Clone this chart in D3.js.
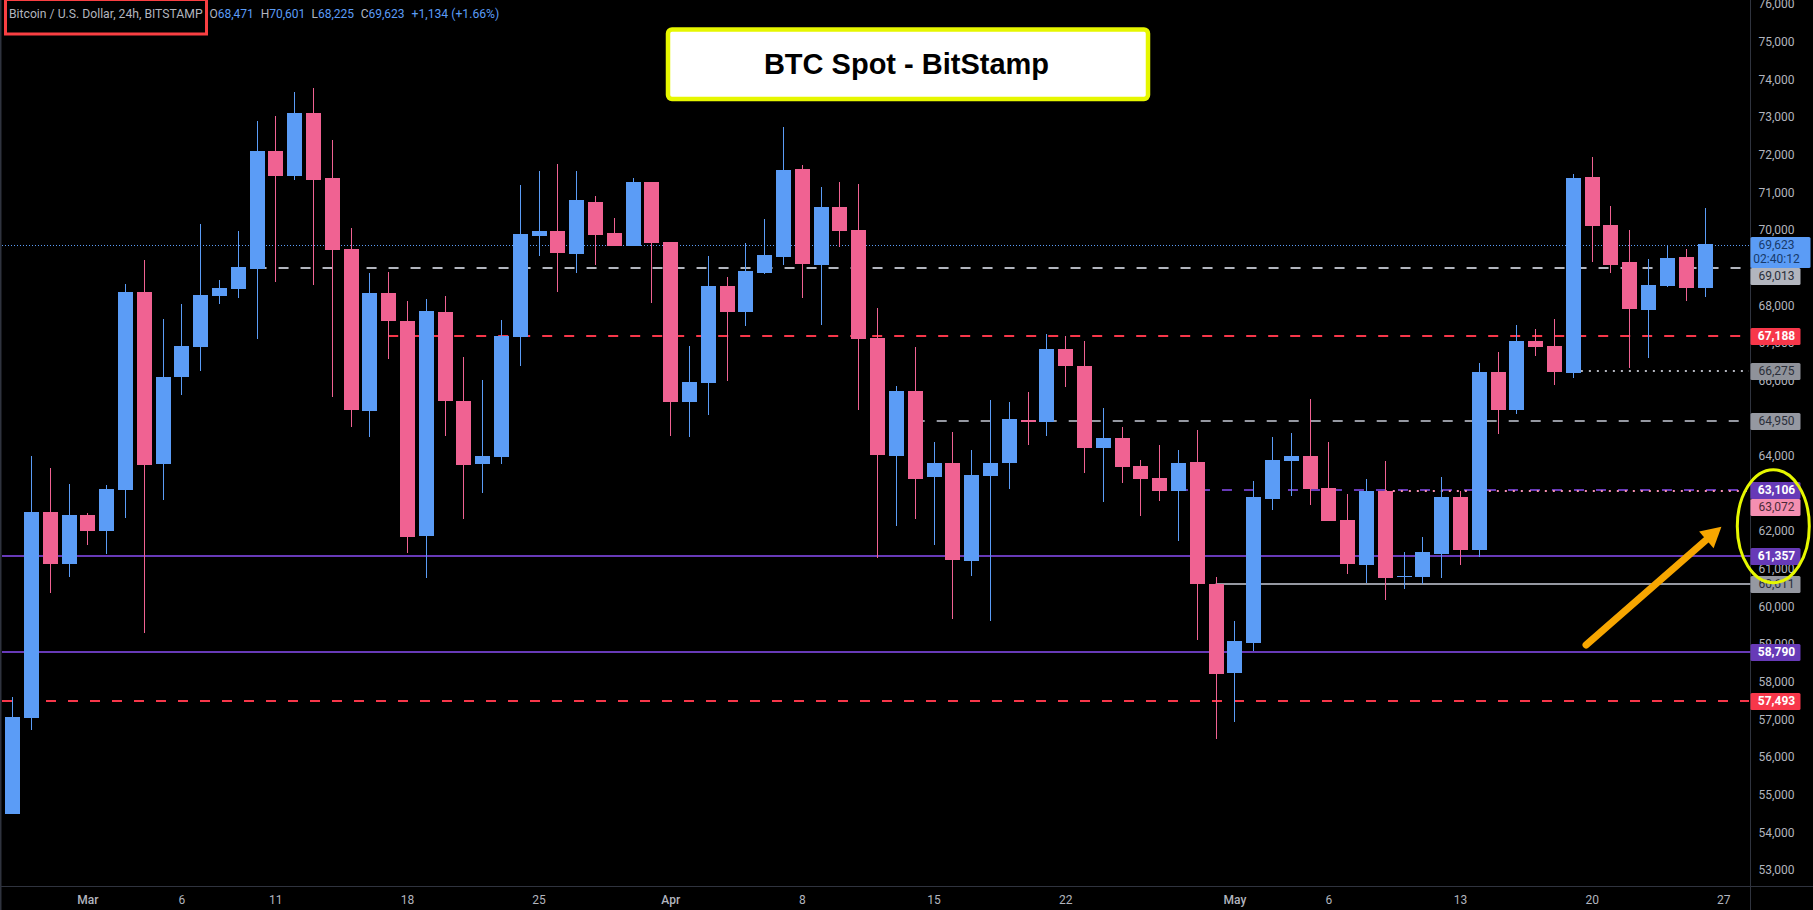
<!DOCTYPE html>
<html>
<head>
<meta charset="utf-8">
<script src="https://cdn.jsdelivr.net/npm/d3@7"></script>
<style>
  html, body { margin: 0; padding: 0; background: #000; overflow: hidden; }
  text { font-family: Roboto, sans-serif; }
</style>
</head>
<body>
<div id="chart"></div>
<script>
// daily candles, 26 Feb to 26 May
var opens = [54490,57041,62513,61132,62433,62008,63098,68359,63788,66100,66897,68252,68438,68969,72104,71440,
  73114,71387,69501,65197,68332,67588,61876,67827,65462,63788,63974,67163,69847,69979,69368,70750,
  69926,69581,71281,69687,65436,65941,68518,67827,68863,69288,71626,69076,70617,70006,67136,64001,
  65728,63443,63815,61211,63470,63815,64958,64905,66844,66392,64214,64480,63735,63416,63071,63841,
  60600,58236,59033,62859,63868,64001,63151,62301,61105,63071,60787,60787,61397,62912,61504,66233,
  65223,67057,66924,66206,71414,70139,69156,67880,68518,69288,68471]
var highs = [57599,64001,63682,63257,62487,63230,68571,69209,67641,68040,70165,68677,69979,72901,73034,73672,
  73778,72396,70059,68863,68890,68119,68173,68252,66631,66020,67615,71201,71573,71759,71573,70909,
  70325,71387,71281,69687,66924,69315,68757,69661,70298,72742,71732,71148,71281,71228,67934,65860,
  66897,64373,64638,64160,65489,65436,65701,67242,67189,67057,65276,64772,63895,64293,64160,64691,
  60786,59618,63337,64506,64612,65516,64373,62991,63389,63868,61451,61849,63443,63071,66472,66764,
  67482,67375,67641,71494,71945,70644,70006,69235,69581,69501,70601]
var lows = [54490,56722,60362,60787,61637,61397,62354,59299,62832,65622,66259,68040,68199,67110,68624,71334,
  68544,65569,64772,64506,66578,61424,60760,64533,62327,63018,63788,66392,69315,68359,68863,69076,
  69581,69581,68066,64533,64506,65090,65994,67455,68836,69076,68199,67482,69554,65223,61291,62141,
  62327,61637,59671,60813,59618,63124,64293,64533,65834,63549,62779,63284,62407,62805,61743,59113,
  56483,56934,58820,62566,62938,62699,62274,60866,60627,60176,60468,60600,60760,61105,61318,64586,
  65117,66658,65887,66073,69156,68863,66339,66605,68491,68119,68225]
var closes = [57067,62513,61132,62433,62008,63124,68359,63762,66100,66924,68279,68465,69023,72104,71440,73114,
  71334,69475,65223,68332,67588,61849,67854,65462,63762,64001,67189,69900,69979,69395,70803,69873,
  69581,71281,69661,65436,65967,68518,67827,68916,69341,71600,69102,70617,69979,67110,64028,65728,
  63389,63815,61238,63496,63815,64984,64905,66844,66392,64214,64480,63709,63389,63071,63815,60600,
  58209,59086,62912,63895,64001,63124,62274,61132,63071,60760,60813,61451,62912,61504,66233,65223,
  67057,66897,66233,71387,70112,69076,67907,68544,69261,68465,69623]

var priceTicks = [53000,54000,55000,56000,57000,58000,59000,60000,61000,62000,63000,64000,65000,66000,67000,
  68000,69000,70000,71000,72000,73000,74000,75000,76000]
var dayTicks = [4,9,14,21,28,35,42,49,56,65,70,77,84,91]
var dayLabels = ['Mar','6','11','18','25','Apr','8','15','22','May','6','13','20','27']

var lastPrice = 69623
var countdown = '02:40:12'
var symbolName = 'Bitcoin / U.S. Dollar, 24h, BITSTAMP'
var ohlcLetters = ['O','H','L','C']
var ohlcValues = ['68,471','70,601','68,225','69,623']
var changeText = '+1,134 (+1.66%)'
var titleText = 'BTC Spot - BitStamp'

// horizontal levels drawn on the chart
var levelPrices = [69013,67188,66275,64950,63106,63072,61357,60611,58790,57493]
var levelStartDays = [13,20,83,48,62,73,0,64,0,0]
var levelKinds = ['grey','red','dots','grey2','purpleDash','pinkDots','purple','greyLine','purple','red']

var width = 1813, height = 910
var axisX = 1750.5, axisY = 886.5

var kinds = {
  grey: {color:'#b2b5be', dash:'10,12', w:2, end:1741, bg:'#b2b5be', fg:'#2a2e39'},
  grey2: {color:'#9598a1', dash:'10,12', w:2, end:1741, bg:'#9598a1', fg:'#2a2e39'},
  red: {color:'#f7374a', dash:'10,12', w:2, end:1749, bg:'#f7374a', fg:'#fff', bold:true},
  dots: {color:'#b2b5be', dash:'2,6', w:2, end:1749, bg:'#8f929a', fg:'#2a2e39'},
  purpleDash: {color:'#673ab7', dash:'10,12', w:2, end:1741, bg:'#673ab7', fg:'#fff', bold:true},
  pinkDots: {color:'#f48fb1', dash:'2,6', w:2, end:1749, bg:'#f48fb1', fg:'#4a2a38'},
  purple: {color:'#673ab7', w:2, end:axisX, bg:'#673ab7', fg:'#fff', bold:true},
  greyLine: {color:'#9598a1', w:2, end:axisX, bg:'#9598a1', fg:'#2a2e39'}
}

var x = d3.scaleLinear().domain([0, 90]).range([12.1, 1704.5])
var y = d3.scaleLinear().domain([53000, 75000]).range([870.08, 42])
// level lines snap to whole pixel rows
var rowY = function(p){ return Math.round(y(p) + 0.3) }

var blue = '#5b9cf6', pink = '#f06292'
var textGrey = '#b2b5be', lineGrey = '#2f333e'

var svg = d3.select('#chart').append('svg')
  .attr('width', width)
  .attr('height', height)
  .style('display', 'block')
  .style('background', '#000')

// axes
var yAxis = d3.axisRight(y).tickValues(priceTicks).tickSize(0).tickPadding(0)
  .tickFormat(d3.format(','))
var yg = svg.append('g').attr('transform', 'translate(' + axisX + ',0)').call(yAxis)
yg.select('.domain').remove()
yg.selectAll('text')
  .attr('x', 26)
  .attr('dy', '0.3em')
  .attr('text-anchor', 'middle')
  .style('font-family', 'Roboto, sans-serif')
  .style('font-size', '12px')
  .attr('fill', textGrey)

var xAxis = d3.axisBottom(x).tickValues(dayTicks).tickSize(0).tickPadding(0)
  .tickFormat(function(d, i){ return dayLabels[i] })
var xg = svg.append('g').attr('transform', 'translate(0,' + axisY + ')').call(xAxis)
xg.select('.domain').remove()
xg.selectAll('text')
  .attr('y', 9)
  .style('font-family', 'Roboto, sans-serif')
  .style('font-size', '12px')
  .style('font-weight', function(d, i){ return isNaN(dayLabels[i]) ? 500 : 400 })
  .attr('fill', textGrey)

svg.append('line').attr('x1', axisX).attr('x2', axisX).attr('y1', 0).attr('y2', height).attr('stroke', lineGrey)
svg.append('line').attr('x1', 0).attr('x2', width).attr('y1', axisY).attr('y2', axisY).attr('stroke', lineGrey)
svg.append('rect').attr('width', 1.5).attr('height', height).attr('fill', lineGrey)

// level lines sit under the candles
svg.selectAll('.level').data(levelPrices).enter().append('line')
  .classed('level', true)
  .attr('x1', function(d, i){ return levelStartDays[i] == 0 ? 2 : x(levelStartDays[i]) })
  .attr('x2', function(d, i){ return kinds[levelKinds[i]].end })
  .attr('y1', function(d){ return rowY(d) })
  .attr('y2', function(d){ return rowY(d) })
  .attr('stroke', function(d, i){ return kinds[levelKinds[i]].color })
  .attr('stroke-width', function(d, i){ return kinds[levelKinds[i]].w })
  .attr('stroke-dasharray', function(d, i){ return kinds[levelKinds[i]].dash || null })

svg.append('line')
  .attr('x1', 2).attr('x2', axisX)
  .attr('y1', rowY(lastPrice) + 0.5).attr('y2', rowY(lastPrice) + 0.5)
  .attr('stroke', blue).attr('stroke-dasharray', '1,2')

// candles
var color = function(d, i){ return closes[i] >= opens[i] ? blue : pink }
var candles = svg.append('g').attr('shape-rendering', 'crispEdges')
candles.selectAll('.wick').data(opens).enter().append('line')
  .classed('wick', true)
  .attr('x1', function(d, i){ return Math.round(x(i)) + 0.5 })
  .attr('x2', function(d, i){ return Math.round(x(i)) + 0.5 })
  .attr('y1', function(d, i){ return y(highs[i]) })
  .attr('y2', function(d, i){ return y(lows[i]) })
  .attr('stroke', color)
candles.selectAll('.body').data(opens).enter().append('rect')
  .classed('body', true)
  .attr('x', function(d, i){ return Math.round(x(i)) - 7 })
  .attr('width', 15)
  .attr('y', function(d, i){ return y(Math.max(opens[i], closes[i])) })
  .attr('height', function(d, i){ return Math.max(1, Math.abs(y(opens[i]) - y(closes[i]))) })
  .attr('fill', color)

// labels on the price axis, pushed down when they would overlap
var lastTop = rowY(lastPrice) - 8
var lastBottom = lastTop + 31
var boxH = 17
var labels = levelPrices.map(function(p, i){ return {p:p, k:kinds[levelKinds[i]]} })
labels.forEach(function(l){
  l.top = rowY(l.p) - 8
  if (l.top < lastBottom) l.top = lastBottom
  lastBottom = l.top + boxH
})
var labelG = svg.selectAll('.plabel').data(labels).enter().append('g').classed('plabel', true)
labelG.append('rect')
  .attr('x', axisX).attr('width', 50)
  .attr('y', function(l){ return l.top }).attr('height', boxH).attr('rx', 1.5)
  .attr('fill', function(l){ return l.k.bg })
labelG.append('text')
  .attr('x', axisX + 26).attr('text-anchor', 'middle')
  .attr('y', function(l){ return l.top + 8 }).attr('dy', '0.35em')
  .attr('font-size', 12)
  .attr('font-weight', function(l){ return l.k.bold ? 700 : 400 })
  .attr('fill', function(l){ return l.k.fg })
  .text(function(l){ return d3.format(',')(l.p) })

svg.append('rect')
  .attr('x', axisX).attr('width', 60)
  .attr('y', lastTop).attr('height', 31).attr('rx', 1.5)
  .attr('fill', blue)
svg.append('text').attr('x', axisX + 26).attr('y', lastTop + 8).attr('dy', '0.35em')
  .attr('text-anchor', 'middle').attr('font-size', 12).attr('fill', '#173a6b')
  .text(d3.format(',')(lastPrice))
svg.append('text').attr('x', axisX + 26).attr('y', lastTop + 22).attr('dy', '0.35em')
  .attr('text-anchor', 'middle').attr('font-size', 12).attr('fill', '#173a6b')
  .text(countdown)

// header
svg.append('rect').attr('x', 5.5).attr('y', -0.5).attr('width', 201).attr('height', 34.5)
  .attr('fill', 'none').attr('stroke', '#f93f42').attr('stroke-width', 3)
svg.append('text').attr('x', 9).attr('y', 18).attr('font-size', 12.2).attr('fill', textGrey).text(symbolName)
var ohlcX = [209.5, 260.7, 311.5, 360.7]
ohlcLetters.forEach(function(letter, i){
  var t = svg.append('text').attr('x', ohlcX[i]).attr('y', 18).attr('font-size', 12).attr('fill', textGrey)
  t.append('tspan').text(letter)
  t.append('tspan').attr('fill', blue).text(ohlcValues[i])
})
svg.append('text').attr('x', 411.5).attr('y', 18).attr('font-size', 12.2).attr('fill', blue).text(changeText)

// title box
svg.append('rect').attr('x', 668).attr('y', 29.5).attr('width', 480).attr('height', 69.5).attr('rx', 4)
  .attr('fill', '#fff').attr('stroke', '#e6f700').attr('stroke-width', 4.5)
svg.append('text').attr('x', 906.5).attr('y', 74).attr('text-anchor', 'middle')
  .style('font-family', '"Liberation Sans", Arial, sans-serif')
  .attr('font-size', 29).attr('font-weight', 700).attr('fill', '#000')
  .text(titleText)

// arrow and ellipse annotations
var arrowFrom = [83.7, 58980], arrowTo = [90.9, 62123]
var ax = x(arrowFrom[0]), ay = y(arrowFrom[1]), bx = x(arrowTo[0]), by = y(arrowTo[1])
var len = Math.sqrt((bx-ax)*(bx-ax) + (by-ay)*(by-ay))
var ux = (bx-ax)/len, uy = (by-ay)/len
svg.append('line')
  .attr('x1', ax).attr('y1', ay).attr('x2', bx - ux*16).attr('y2', by - uy*16)
  .attr('stroke', '#f7a600').attr('stroke-width', 7).attr('stroke-linecap', 'round')
svg.append('polygon')
  .attr('points', [
    [bx, by],
    [bx - ux*20 + uy*11, by - uy*20 - ux*11],
    [bx - ux*20 - uy*11, by - uy*20 + ux*11]
  ].join(' '))
  .attr('fill', '#f7a600')

svg.append('ellipse').attr('cx', 1773.3).attr('cy', 526.2).attr('rx', 36).attr('ry', 56.5)
  .attr('fill', 'none').attr('stroke', '#e6f700').attr('stroke-width', 3)
</script>
</body>
</html>
